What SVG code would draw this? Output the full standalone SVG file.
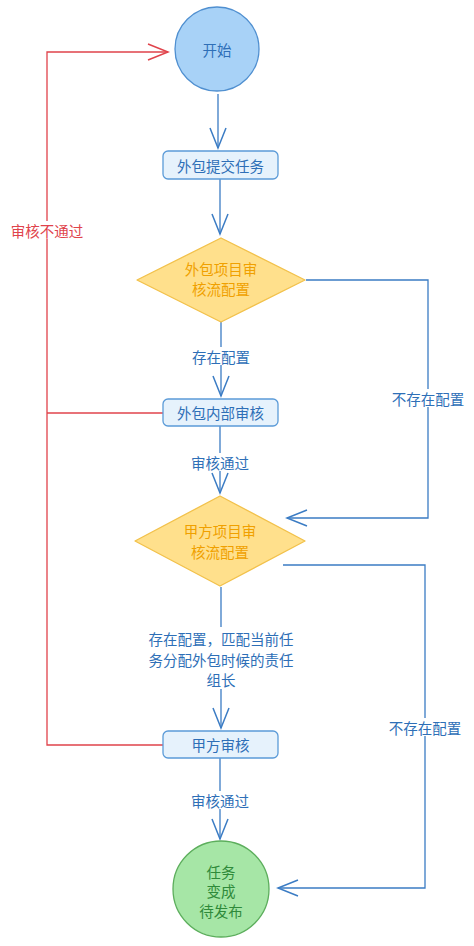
<svg xmlns="http://www.w3.org/2000/svg" width="474" height="946" viewBox="0 0 474 946">
<style>
text{font-family:"Noto Sans CJK SC","Liberation Sans",sans-serif;font-size:14.5px;text-anchor:middle;dominant-baseline:central}
.blue{fill:#2e6fb7}
.line{fill:none;stroke:#3b7cc4;stroke-width:1.3}
.red{fill:none;stroke:#e0434b;stroke-width:1.3}
.box{fill:#e6f2fc;stroke:#5b9bd8;stroke-width:1.3}
.dia{fill:#ffe08c;stroke:#f2c14b;stroke-width:1.3}
.dt{fill:#f0a000}
.lbg{fill:#ffffff}
</style>
<defs>
<marker id="ab" markerUnits="userSpaceOnUse" viewBox="-22 -10 24 20" refX="0" refY="0" markerWidth="24" markerHeight="20" orient="auto">
<path d="M-20,-8 L0,0 L-20,8" fill="none" stroke="#3b7cc4" stroke-width="1.5"/>
</marker>
<marker id="ar" markerUnits="userSpaceOnUse" viewBox="-22 -10 24 20" refX="0" refY="0" markerWidth="24" markerHeight="20" orient="auto">
<path d="M-20,-8 L0,0 L-20,8" fill="none" stroke="#e0434b" stroke-width="1.5"/>
</marker>
</defs>
<g id="connectors">
<path class="line" d="M218,94 L218,148" marker-end="url(#ab)"/>
<path class="line" d="M220,179 L220,234" marker-end="url(#ab)"/>
<path class="line" d="M221,320 L221,396" marker-end="url(#ab)"/>
<path class="line" d="M220,426 L220,493" marker-end="url(#ab)"/>
<path class="line" d="M221,587 L221,728" marker-end="url(#ab)"/>
<path class="line" d="M220,758 L220,839" marker-end="url(#ab)"/>
<path class="line" d="M306,280 L428,280 L428,518 L287,518" marker-end="url(#ab)"/>
<path class="line" d="M283,565 L425,565 L425,888 L278,888" marker-end="url(#ab)"/>
<path class="red" d="M163,745 L47,745 L47,52 L168,52" marker-end="url(#ar)"/>
<path class="red" d="M163,413 L47,413"/>
<rect class="lbg" x="8" y="221" width="78" height="18"/>
<text x="47" y="230" fill="#e0434b">审核不通过</text>
<rect class="lbg" x="390" y="389" width="76" height="18"/>
<text class="blue" x="428" y="398">不存在配置</text>
<rect class="lbg" x="387" y="718" width="76" height="18"/>
<text class="blue" x="425" y="727">不存在配置</text>
<rect class="lbg" x="190" y="347" width="62" height="18"/>
<text class="blue" x="221" y="356">存在配置</text>
<rect class="lbg" x="189" y="453" width="62" height="18"/>
<text class="blue" x="220" y="462">审核通过</text>
<rect class="lbg" x="144" y="627" width="154" height="62"/>
<text class="blue" x="221" y="638">存在配置，匹配当前任</text>
<text class="blue" x="221" y="659">务分配外包时候的责任</text>
<text class="blue" x="221" y="679">组长</text>
<rect class="lbg" x="189" y="791" width="62" height="18"/>
<text class="blue" x="220" y="800">审核通过</text>
</g>
<g id="start">
<circle cx="217" cy="49" r="42" fill="#a8d2f7" stroke="#4f8fd0" stroke-width="1.3"/>
<text class="blue" x="217" y="49">开始</text>
</g>
<g id="submit">
<rect class="box" x="163" y="151" width="115" height="28" rx="5"/>
<text class="blue" x="220.5" y="165">外包提交任务</text>
</g>
<g id="d1">
<path class="dia" d="M221,238 L305,280 L221,322 L137,280 Z" stroke-linejoin="round"/>
<text class="dt" x="221" y="268">外包项目审</text>
<text class="dt" x="221" y="288">核流配置</text>
</g>
<g id="internal">
<rect class="box" x="163" y="399" width="115" height="27" rx="5"/>
<text class="blue" x="220.5" y="412.5">外包内部审核</text>
</g>
<g id="d2">
<path class="dia" d="M220,496 L305,541 L220,586 L135,541 Z" stroke-linejoin="round"/>
<text class="dt" x="220" y="530">甲方项目审</text>
<text class="dt" x="220" y="551">核流配置</text>
</g>
<g id="client">
<rect class="box" x="163" y="731" width="115" height="27" rx="5"/>
<text class="blue" x="220.5" y="744.5">甲方审核</text>
</g>
<g id="end">
<circle cx="221" cy="889" r="48" fill="#a6e6a6" stroke="#5cae5c" stroke-width="1.3"/>
<text x="221" y="871" fill="#2f8a3a">任务</text>
<text x="221" y="890" fill="#2f8a3a">变成</text>
<text x="221" y="910" fill="#2f8a3a">待发布</text>
</g>
</svg>
